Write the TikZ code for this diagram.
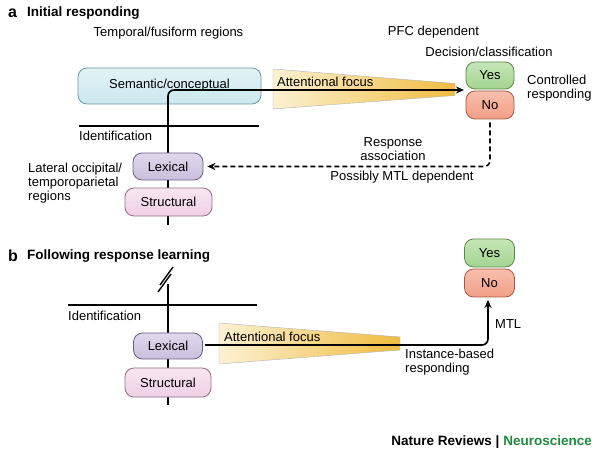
\documentclass[tikz,border=0pt]{standalone}
\usepackage{fontspec}
\setmainfont{Liberation Sans}
\usetikzlibrary{arrows.meta,shapes.misc}
\definecolor{semfill}{HTML}{CBE8EE}
\definecolor{semtop}{HTML}{E2F3F6}
\definecolor{semdraw}{HTML}{6C97A3}
\definecolor{lexfill}{HTML}{CBBFDD}
\definecolor{lextop}{HTML}{E0D8EC}
\definecolor{lexdraw}{HTML}{6B5C85}
\definecolor{strfill}{HTML}{EFD0E5}
\definecolor{strtop}{HTML}{F8E6F1}
\definecolor{strdraw}{HTML}{8E6E86}
\definecolor{yesfill}{HTML}{A3D490}
\definecolor{yestop}{HTML}{C6E6B8}
\definecolor{yesdraw}{HTML}{5B8A4B}
\definecolor{nofill}{HTML}{F29E86}
\definecolor{notop}{HTML}{F8BFAD}
\definecolor{nodraw}{HTML}{A55A45}
\definecolor{wedgel}{HTML}{FCF1D2}
\definecolor{wedger}{HTML}{F0BC40}
\definecolor{nrgreen}{HTML}{1E8A3C}
\tikzset{
  txt/.style={font=\fontsize{13}{14}\selectfont, inner sep=0pt},
  ttl/.style={font=\fontsize{13.5}{15}\selectfont\bfseries, inner sep=0pt, anchor=west},
  rrect/.style={rectangle, rounded corners=9pt, inner sep=0pt, line width=0.8pt,
     font=\fontsize{13}{14}\selectfont},
  sem/.style={rrect, draw=semdraw, top color=semtop, bottom color=semfill},
  lex/.style={rrect, draw=lexdraw, top color=lextop, bottom color=lexfill},
  strc/.style={rrect, draw=strdraw, top color=strtop, bottom color=strfill},
  yesb/.style={rrect, draw=yesdraw, top color=yestop, bottom color=yesfill},
  nob/.style={rrect, draw=nodraw, top color=notop, bottom color=nofill},
  wedge/.style={draw=gray!60, line width=0.4pt, left color=wedgel, right color=wedger},
  conn/.style={line width=1.6pt, rounded corners=6pt},
  dconn/.style={line width=1.6pt, dash pattern=on 5pt off 3pt, rounded corners=6pt},
  tip/.style={-{Stealth[length=8pt,width=7pt]}},
  rule/.style={line width=1.6pt}
}
\begin{document}
\begin{tikzpicture}[x=1pt,y=-1pt]
\useasboundingbox (0,0) rectangle (600,454);
% ---------- panel a ----------
\node[ttl, font=\fontsize{16}{16}\selectfont\bfseries] (la) at (8,13) {a};
\node[ttl] (ta) at (27,13) {Initial responding};
\node[txt] (tfr) at (168.5,33) {Temporal/fusiform regions};
\node[txt] (pfc) at (433.5,32) {PFC dependent};
\node[txt] (dec) at (489,52) {Decision/classification};

\node[sem, minimum width=183pt, minimum height=36pt] (sema) at (169.5,86) {\raisebox{4pt}{Semantic/conceptual}};
\draw[wedge] (273,69) -- (455,83.5) -- (455,95.5) -- (273,109) -- cycle;
\node[txt, anchor=west] (afa) at (277,82) {Attentional focus};

\node[yesb, minimum width=48pt, minimum height=27pt] (yesa) at (490,75.5) {Yes};
\node[nob, minimum width=48pt, minimum height=28pt] (noa) at (490,105) {No};
\node[txt, anchor=west, align=left] (cr) at (527,88.5) {Controlled\\responding};

\draw[rule] (79,126) -- (259,126);
\node[txt, anchor=west] (ida) at (79,136) {Identification};

\coordinate (bota) at (168,225);
\coordinate (tipa) at (464,90);
\draw[conn, tip] (bota) |- (tipa);

\node[lex, minimum width=70pt, minimum height=27pt] (lexa) at (168,166.5) {Lexical};
\node[strc, minimum width=87pt, minimum height=28pt] (stra) at (168.5,202) {Structural};
\node[txt, anchor=west, align=left] (loc) at (28,183) {Lateral occipital/\\temporoparietal\\regions};

\draw[dconn, tip, shorten <=3pt, shorten >=4pt] (noa.south) |- (lexa.east);
\node[txt, align=center] (ra) at (393,149) {Response\\association};
\node[txt] (pmd) at (402,177) {Possibly MTL dependent};

% ---------- panel b ----------
\node[ttl, font=\fontsize{16}{16}\selectfont\bfseries] (lb) at (8,256) {b};
\node[ttl] (tb) at (27,256) {Following response learning};

\node[yesb, minimum width=50pt, minimum height=28pt] (yesb) at (489.5,253) {Yes};
\node[nob, minimum width=50pt, minimum height=28pt] (nob) at (489.5,283) {No};

\draw[rule] (68,305) -- (257,305);
\node[txt, anchor=west] (idb) at (68,316) {Identification};

\coordinate (topb) at (168,284);
\coordinate (botb) at (168,405);
\draw[rule] (topb) -- (botb);
\draw[line width=1.4pt] (160,285) -- (173,267);
\draw[line width=1.4pt] (158,292) -- (171,274);

\draw[wedge] (219,323) -- (400,337) -- (400,350) -- (219,364) -- cycle;
\node[txt, anchor=west] (afb) at (224,337) {Attentional focus};

\node[lex, minimum width=69pt, minimum height=26pt] (lexb) at (168,346) {Lexical};
\node[strc, minimum width=86pt, minimum height=29pt] (strb) at (168,382.5) {Structural};

\coordinate (startb) at (205,345);
\coordinate (tipb) at (488,300);
\draw[conn, tip] (startb) -| (tipb);
\node[txt, anchor=west] (mtl) at (495,324) {MTL};
\node[txt, anchor=west, align=left] (ibr) at (405,362) {Instance-based\\responding};

% ---------- credit ----------
\node[ttl, anchor=east] (nr) at (592,442) {Nature Reviews | \textcolor{nrgreen}{Neuroscience}};
\end{tikzpicture}
\end{document}
